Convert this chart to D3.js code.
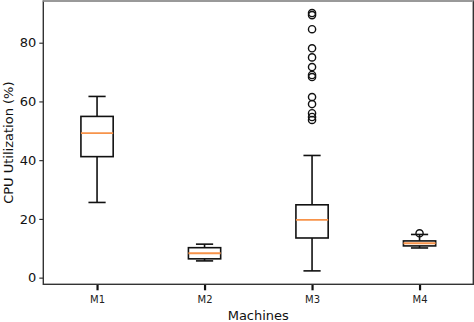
<!DOCTYPE html>
<html><head><meta charset="utf-8">
<script src="https://cdn.jsdelivr.net/npm/d3@7"></script>
<style>body{margin:0;background:#fff}svg{display:block}text{font-family:"DejaVu Sans",sans-serif}</style>
</head><body><svg id="c" width="474" height="322"></svg>
<script>
const machines = ["M1","M2","M3","M4"];
const whiskerLow = [25.6, 5.7, 2.3, 10.1];
const q1 = [41.2, 6.4, 13.5, 10.8];
const median = [49.2, 8.3, 19.7, 11.7];
const q3 = [54.9, 10.2, 24.8, 12.5];
const whiskerHigh = [61.7, 11.4, 41.6, 14.7];
const outliers = [[], [], [90.1, 89.4, 84.6, 78.1, 75.0, 71.7, 69.0, 68.3, 61.5, 59.1, 56.0, 54.7, 53.7], [15.1]];
const yTicks = [0, 20, 40, 60, 80];

const svg = d3.select("#c");
const L = 43.3, R = 473.3, T = 1, B = 284.3;
const x = d3.scaleLinear().domain([0.5, 4.5]).range([L, R]);
const y = d3.scaleLinear().domain([-2.27, 94.2]).range([B, T]);
const bw = 0.15, cw = 0.08;

// y axis
const yAxis = svg.append("g").attr("transform", `translate(${L},0)`)
  .call(d3.axisLeft(y).tickValues(yTicks).tickSize(4).tickPadding(3));
yAxis.select(".domain").remove();
yAxis.selectAll("line").attr("stroke", "#222").attr("stroke-width", 1.1);
yAxis.selectAll("text").attr("font-size", 13).attr("fill", "#111").style("font-family", "DejaVu Sans");

// x axis
const xAxis = svg.append("g").attr("transform", `translate(0,${B})`)
  .call(d3.axisBottom(x).tickValues([1,2,3,4]).tickFormat((d,i)=>machines[i]).tickSize(6).tickPadding(6));
xAxis.select(".domain").remove();
xAxis.selectAll("line").attr("stroke", "#111").attr("stroke-width", 2.2);
xAxis.selectAll("text").attr("font-size", 10).attr("fill", "#222").style("font-family", "DejaVu Sans");

// frame
svg.append("rect").attr("x", L).attr("y", T).attr("width", R - L).attr("height", B - T)
  .attr("fill", "none").attr("stroke", "#333").attr("stroke-width", 1.4);
svg.append("line").attr("x1", L).attr("x2", R).attr("y1", T).attr("y2", T).attr("stroke", "#999").attr("stroke-width", 2);

const g = svg.append("g");
machines.forEach((m, i) => {
  const c = i + 1;
  const line = (x1, y1, x2, y2, col, w) => g.append("line").attr("x1", x(x1)).attr("y1", y(y1)).attr("x2", x(x2)).attr("y2", y(y2)).attr("stroke", col).attr("stroke-width", w);
  // whiskers
  line(c, q3[i], c, whiskerHigh[i], "#111", 1.6);
  line(c, q1[i], c, whiskerLow[i], "#111", 1.6);
  line(c - cw, whiskerHigh[i], c + cw, whiskerHigh[i], "#111", 1.6);
  line(c - cw, whiskerLow[i], c + cw, whiskerLow[i], "#111", 1.6);
  // box
  g.append("rect").attr("x", x(c - bw)).attr("y", y(q3[i])).attr("width", x(c + bw) - x(c - bw))
    .attr("height", y(q1[i]) - y(q3[i])).attr("fill", "none").attr("stroke", "#111").attr("stroke-width", 1.6);
  // median
  line(c - bw, median[i], c + bw, median[i], "#f7934a", 1.8);
  // outliers
  g.selectAll(null).data(outliers[i]).enter().append("circle")
    .attr("cx", x(c)).attr("cy", d => y(d)).attr("r", 3.6)
    .attr("fill", "none").attr("stroke", "#111").attr("stroke-width", 1.4);
});

svg.append("text").attr("x", (L + R) / 2).attr("y", 320).attr("text-anchor", "middle")
  .attr("font-size", 13).attr("fill", "#111").text("Machines");
svg.append("text").attr("transform", `translate(13,${(T + B) / 2}) rotate(-90)`).attr("text-anchor", "middle")
  .attr("font-size", 13).attr("fill", "#111").text("CPU Utilization (%)");
</script></body></html>
